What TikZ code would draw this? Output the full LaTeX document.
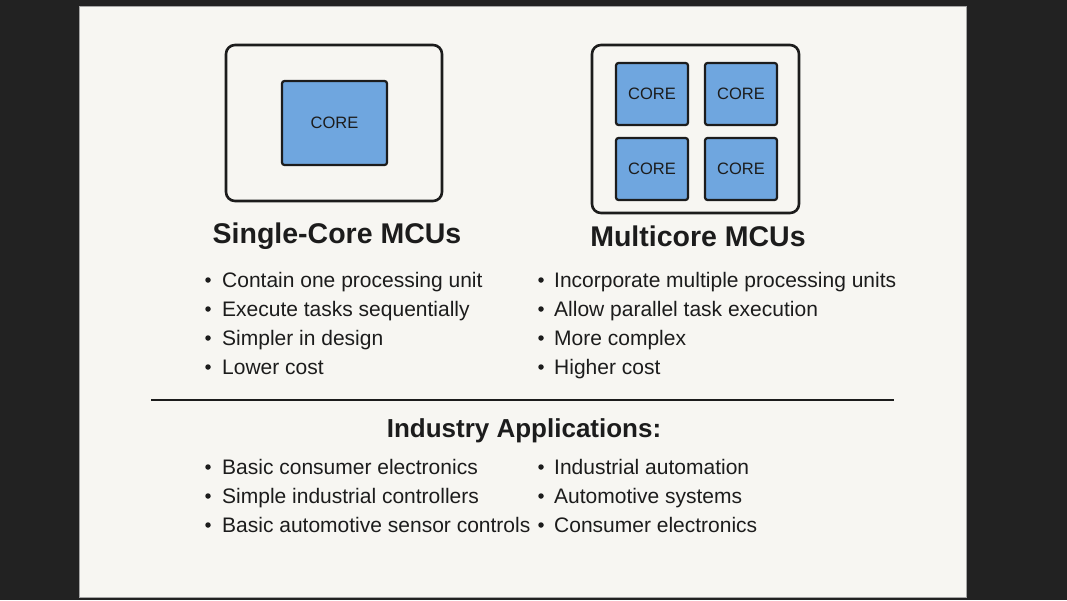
\documentclass[tikz,border=0pt]{standalone}
\usepackage{fontspec}
\setmainfont{Liberation Sans}
\definecolor{bgdark}{HTML}{222222}
\definecolor{panel}{HTML}{F7F6F2}
\definecolor{corefill}{HTML}{6FA6DF}
\definecolor{ink}{HTML}{1C1C1C}
\tikzset{
  chip/.style={draw=ink, line width=2.6pt, rounded corners=9pt, fill=panel},
  corebox/.style={draw=ink, line width=2.2pt, rounded corners=2.5pt, fill=corefill, text=ink,
     font=\fontsize{16.5}{18}\selectfont},
  title/.style={text=ink, font=\fontsize{28.5}{32}\selectfont\bfseries},
  item/.style={text=ink, anchor=base west, inner sep=0pt, font=\fontsize{21}{24}\selectfont},
  dot/.style={circle, fill=ink, inner sep=0pt, minimum size=5.5pt}
}
\begin{document}
\begin{tikzpicture}[x=1pt,y=-1pt]
\useasboundingbox (0,0) rectangle (1067,600);
\fill[bgdark] (0,0) rectangle (1067,600);
\filldraw[fill=panel, draw=gray!70, line width=1pt] (79.5,6.5) rectangle (966.5,597.5);
% single core chip
\node[chip, minimum width=216pt, minimum height=156pt] (single) at (334,123) {};
\node[corebox, minimum width=105pt, minimum height=84pt] (c0) at (334.5,123) {CORE};
% multicore chip
\node[chip, minimum width=207pt, minimum height=168pt] (multi) at (695.5,129) {};
\node[corebox, minimum width=72pt, minimum height=62pt] (c1) at (652,94) {CORE};
\node[corebox, minimum width=72pt, minimum height=62pt] (c2) at (741,94) {CORE};
\node[corebox, minimum width=72pt, minimum height=62pt] (c3) at (652,169) {CORE};
\node[corebox, minimum width=72pt, minimum height=62pt] (c4) at (741,169) {CORE};
% titles
\node[title] (t1) at (337,236) {Single-Core MCUs};
\node[title] (t2) at (698,236) {Multicore MCUs};
% left bullets
\foreach \y/\t [count=\i] in {287/Contain one processing unit, 316/Execute tasks sequentially, 345/Simpler in design, 374/Lower cost}{
  \node[dot] (ld\i) at (208,\y-7) {};
  \node[item] (l\i) at (222,\y) {\t};
}
\foreach \y/\t [count=\i] in {287/Incorporate multiple processing units, 316/Allow parallel task execution, 345/More complex, 374/Higher cost}{
  \node[dot] (rd\i) at (541,\y-7) {};
  \node[item] (r\i) at (554,\y) {\t};
}
% rule
\coordinate (ra) at (151,400);
\coordinate (rb) at (894,400);
\draw[ink, line width=2pt] (ra) -- (rb);
\node[title, font=\fontsize{26}{30}\selectfont\bfseries] (t3) at (524,431) {Industry Applications:};
\foreach \y/\t [count=\i] in {474/Basic consumer electronics, 503/Simple industrial controllers, 532/Basic automotive sensor controls}{
  \node[dot] (bd\i) at (208,\y-7) {};
  \node[item] (b\i) at (222,\y) {\t};
}
\foreach \y/\t [count=\i] in {474/Industrial automation, 503/Automotive systems, 532/Consumer electronics}{
  \node[dot] (cd\i) at (541,\y-7) {};
  \node[item] (c\i x) at (554,\y) {\t};
}
\end{tikzpicture}
\end{document}
